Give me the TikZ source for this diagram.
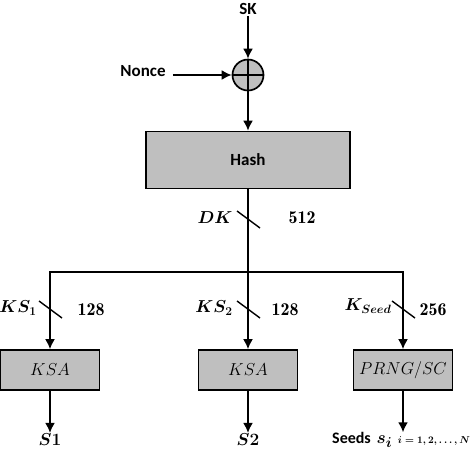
\documentclass[tikz,border=0pt]{standalone}
\usepackage{amsmath}
\usepackage{fontspec}
\setsansfont{Carlito}
\usetikzlibrary{
    shapes,
    positioning,
    calc,
    arrows,
    arrows.meta
}
\tikzset{
  block/.style = {
      draw,
      rectangle,
      fill=black!25,
      line width=1.7pt,
      minimum width=99pt,
      minimum height=40pt,
      inner sep=0pt,
      font=\fontsize{17}{19}\selectfont
  },
  hashbox/.style = {
      block,
      minimum width=204pt,
      minimum height=57pt,
      font=\sffamily\bfseries\fontsize{17}{19}\selectfont
  },
  xorgate/.style = {
      draw,
      circle,
      fill=black!25,
      line width=1.7pt,
      minimum size=31pt,
      inner sep=0pt
  },
  edge/.style = {
      line width=1.7pt
  },
  flow/.style = {
      edge,
      -{Latex[length=10pt,width=10pt]}
  },
  tag/.style = {
      font=\sffamily\bfseries\fontsize{17}{19}\selectfont,
      inner sep=1pt
  },
  buswidth/.style = {
      font=\fontsize{18}{20}\selectfont,
      inner sep=1pt
  },
  outlbl/.style = {
      font=\fontsize{19}{21}\selectfont,
      inner sep=1pt
  },
  busmark/.style = {
      line width=1.4pt
  }
}

\begin{document}
\begin{tikzpicture}[x=1pt,y=-1pt]
        \useasboundingbox (0,0) rectangle (474,451);
        \node[tag] (sk) at (248,9) {SK};
        \node[xorgate] (xor) at (248,75) {};
        \node[tag] (nonce) at (143,71) {Nonce};
        \node[hashbox] (hash) at (248,160) {Hash};
        \coordinate (split) at (248,272);
        \node[block] (ksa1) at (50,370) {$KSA$};
        \node[block] (ksa2) at (248,370) {$KSA$};
        \node[block] (prng) at (403,370) {$PRNG/SC$};
        \node[outlbl] (s1) at (50,440) {$\boldsymbol{S1}$};
        \node[outlbl] (s2) at (248,440) {$\boldsymbol{S2}$};
        \node[outlbl, inner sep=0pt, anchor=west] (seeds) at (332,440) {{\sffamily\bfseries\fontsize{16}{18}\selectfont Seeds} $\boldsymbol{s_i}$ {\fontsize{10}{12}\selectfont$\boldsymbol{i=1,2,\ldots,N}$}};
        % Bus widths
        \coordinate (dk) at (248,220);
        \coordinate (b1) at (50,310);
        \coordinate (b2) at (248,310);
        \coordinate (b3) at (403,310);
        \node[buswidth] (dklbl) at (215,218) {$\boldsymbol{DK}$};
        \node[buswidth] (dkw) at (302,218) {$\mathbf{512}$};
        \node[buswidth] (ks1lbl) at (18,308) {$\boldsymbol{KS_1}$};
        \node[buswidth] (ks1w) at (91,310) {$\mathbf{128}$};
        \node[buswidth] (ks2lbl) at (214,308) {$\boldsymbol{KS_2}$};
        \node[buswidth] (ks2w) at (285,310) {$\mathbf{128}$};
        \node[buswidth] (kseedlbl) at (368,306) {$\boldsymbol{K_{Seed}}$};
        \node[buswidth] (kseedw) at (433,310) {$\mathbf{256}$};
        % Edges
        \draw[edge] (xor.north) -- (xor.south);
        \draw[edge] (xor.west) -- (xor.east);
        \draw[flow] (sk) -- (xor);
        \draw[flow, shorten <=6pt] (nonce.east |- xor.west) -- (xor.west);
        \draw[flow] (xor) -- (hash);
        \draw[edge] (hash) -- (split);
        \draw[flow] (split) -| (ksa1);
        \draw[flow] (split) -- (ksa2);
        \draw[flow] (split) -| (prng);
        \draw[flow] (ksa1) -- (s1);
        \draw[flow] (ksa2) -- (s2);
        \draw[flow] (prng) -- (prng.south |- seeds.north);
        \foreach \b in {dk,b1,b2,b3}
            \draw[busmark] ($(\b)+(-11,-9)$) -- ($(\b)+(12,8)$);
    \end{tikzpicture}
\end{document}
